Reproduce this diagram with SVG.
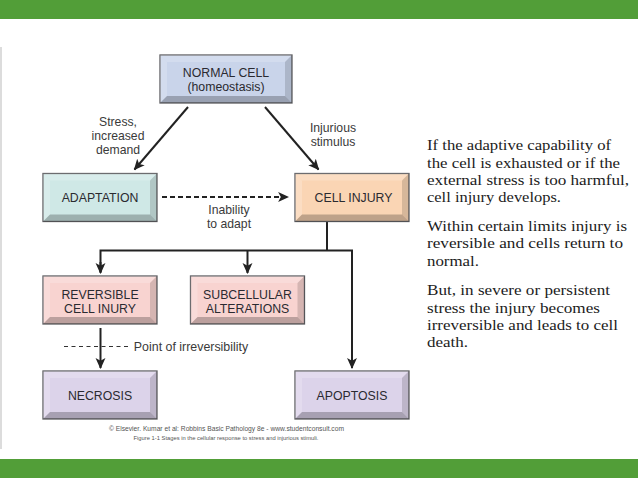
<svg xmlns="http://www.w3.org/2000/svg" width="638" height="478" viewBox="0 0 638 478">
<style>
.body{stroke:#5c5c60;stroke-width:1.3}
.hi{fill:#fff;opacity:.2}
.lo{fill:#000;opacity:.14}
.lo2{fill:#000;opacity:.24}
.n{font-family:"Liberation Sans",Arial,sans-serif;font-size:12.300px;fill:#2a2a30;text-anchor:middle}
.l{font-family:"Liberation Sans",Arial,sans-serif;font-size:12.200px;fill:#3a3a3a;text-anchor:middle}
.p{font-family:"Liberation Serif","Times New Roman",serif;font-size:15px;fill:#1c1c1c}
.c{font-family:"Liberation Sans",Arial,sans-serif;fill:#555;text-anchor:middle}
.ln{fill:none;stroke:#222;stroke-width:2}
</style>
<defs>
<marker id="b" viewBox="0 0 10 10" refX="9" refY="5" markerWidth="11" markerHeight="11" markerUnits="userSpaceOnUse" orient="auto"><path d="M0 0.500L10 5L0 9.500L2.500 5Z" fill="#222"/></marker>
<g id="bevel">
<polygon class="hi" points="0,0 114,0 107,7 7,7"/>
<polygon class="hi" points="0,0 7,7 7,41 0,48"/>
<polygon class="lo" points="114,0 114,48 107,41 107,7"/>
<polygon class="lo2" points="0,48 7,41 107,41 114,48"/>
</g>
</defs>
<rect width="638" height="478" fill="#fff"/>
<rect width="638" height="19" fill="#529e38"/>
<rect y="459" width="638" height="19" fill="#529e38"/>
<rect x="0" y="47" width="2" height="402" fill="#dcdcdc"/>

<g id="connectors">
<line class="ln" x1="188" y1="107" x2="134.500" y2="169.500" marker-end="url(#b)"/>
<line class="ln" x1="265" y1="107" x2="318.500" y2="169.500" marker-end="url(#b)"/>
<line class="ln" x1="162" y1="197" x2="288" y2="197" stroke-dasharray="5 3" marker-end="url(#b)"/>
<path class="ln" d="M327 221V250"/>
<path class="ln" d="M100.500 272V250.500H352V367"/>
<line class="ln" x1="100.500" y1="262" x2="100.500" y2="273" marker-end="url(#b)"/>
<line class="ln" x1="247.500" y1="250" x2="247.500" y2="273" marker-end="url(#b)"/>
<line class="ln" x1="352" y1="355" x2="352" y2="368" marker-end="url(#b)"/>
<line class="ln" x1="100.500" y1="328" x2="100.500" y2="368" marker-end="url(#b)"/>
<line x1="64" y1="346.500" x2="130" y2="346.500" stroke="#333" stroke-width="1" stroke-dasharray="4 3.500"/>
</g>

<g id="normal-cell">
<rect class="body" x="160" y="55" width="132" height="48" fill="#c9d4ea"/>
<polygon class="hi" points="160,55 292,55 285,62 167,62"/>
<polygon class="hi" points="160,55 167,62 167,96 160,103"/>
<polygon class="lo" points="292,55 292,103 285,96 285,62"/>
<polygon class="lo2" points="160,103 167,96 285,96 292,103"/>
<text class="n" x="226" y="77">NORMAL CELL</text>
<text class="n" x="226" y="91">(homeostasis)</text>
</g>
<g id="adaptation">
<rect class="body" x="43" y="173.500" width="114" height="48" fill="#cfe8e6"/>
<use href="#bevel" x="43" y="173.500"/>
<text class="n" x="100" y="202">ADAPTATION</text>
</g>
<g id="cell-injury">
<rect class="body" x="295" y="173.500" width="114" height="48" fill="#fad5b4"/>
<use href="#bevel" x="295" y="173.500"/>
<text class="n" x="353.500" y="202">CELL INJURY</text>
</g>
<g id="reversible-cell-injury">
<rect class="body" x="43" y="276" width="114" height="48" fill="#f8d3d0"/>
<use href="#bevel" x="43" y="276"/>
<text class="n" x="100" y="298.500">REVERSIBLE</text>
<text class="n" x="100" y="312.500">CELL INURY</text>
</g>
<g id="subcellular-alterations">
<rect class="body" x="190.500" y="276" width="114" height="48" fill="#f8d3d0"/>
<use href="#bevel" x="190.500" y="276"/>
<text class="n" x="247.500" y="298.500">SUBCELLULAR</text>
<text class="n" x="247.500" y="312.500">ALTERATIONS</text>
</g>
<g id="necrosis">
<rect class="body" x="43" y="371" width="114" height="48" fill="#dcd3ea"/>
<use href="#bevel" x="43" y="371"/>
<text class="n" x="100" y="399.500">NECROSIS</text>
</g>
<g id="apoptosis">
<rect class="body" x="295" y="371" width="114" height="48" fill="#dcd3ea"/>
<use href="#bevel" x="295" y="371"/>
<text class="n" x="352" y="399.500">APOPTOSIS</text>
</g>

<g id="labels">
<text class="l" x="118" y="126">Stress,</text>
<text class="l" x="118" y="140">increased</text>
<text class="l" x="118" y="153.500">demand</text>
<text class="l" x="333" y="132">Injurious</text>
<text class="l" x="333" y="146">stimulus</text>
<text class="l" x="229" y="214">Inability</text>
<text class="l" x="229" y="227.500">to adapt</text>
<text class="l" x="191" y="351" style="font-size:12.400px">Point of irreversibility</text>
<text class="c" x="226.500" y="431" font-size="6.700">© Elsevier. Kumar et al: Robbins Basic Pathology 8e - www.studentconsult.com</text>
<text class="c" x="226" y="439.500" font-size="5.800">Figure 1-1 Stages in the cellular response to stress and injurious stimuli.</text>
</g>

<g id="text-panel">
<text class="p" x="427" y="150" textLength="184" lengthAdjust="spacingAndGlyphs">If the adaptive capability of</text>
<text class="p" x="427" y="167.500" textLength="193" lengthAdjust="spacingAndGlyphs">the cell is exhausted or if the</text>
<text class="p" x="427" y="185" textLength="202" lengthAdjust="spacingAndGlyphs">external stress is too harmful,</text>
<text class="p" x="427" y="202" textLength="134" lengthAdjust="spacingAndGlyphs">cell injury develops.</text>
<text class="p" x="427" y="231" textLength="200" lengthAdjust="spacingAndGlyphs">Within certain limits injury is</text>
<text class="p" x="427" y="248" textLength="196" lengthAdjust="spacingAndGlyphs">reversible and cells return to</text>
<text class="p" x="427" y="265.500" textLength="52" lengthAdjust="spacingAndGlyphs">normal.</text>
<text class="p" x="427" y="295" textLength="183" lengthAdjust="spacingAndGlyphs">But, in severe or persistent</text>
<text class="p" x="427" y="312.500" textLength="173" lengthAdjust="spacingAndGlyphs">stress the injury becomes</text>
<text class="p" x="427" y="330" textLength="191" lengthAdjust="spacingAndGlyphs">irreversible and leads to cell</text>
<text class="p" x="427" y="347" textLength="41" lengthAdjust="spacingAndGlyphs">death.</text>
</g>
</svg>
